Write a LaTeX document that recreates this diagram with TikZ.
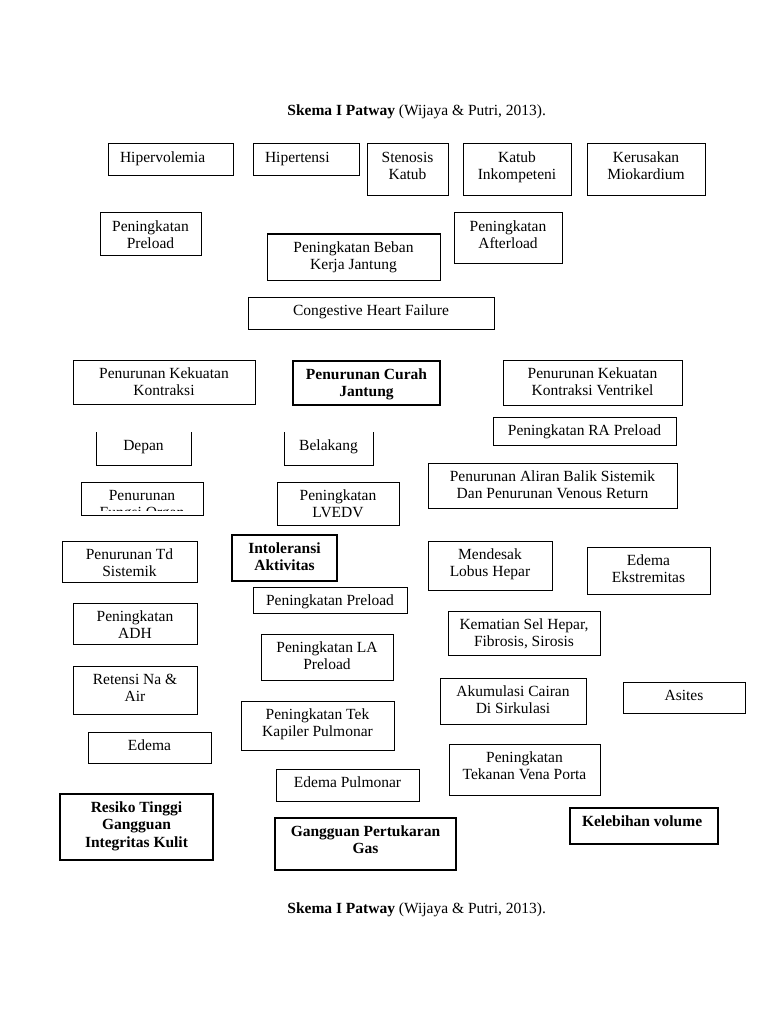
\documentclass[tikz,border=0pt]{standalone}
\usepackage{fontspec}
\setmainfont{Liberation Serif}
\begin{document}
\begin{tikzpicture}[x=1pt,y=-1pt,
  box/.style={draw=black, line width=1pt, inner sep=0pt, outer sep=0pt},
  boldbox/.style={draw=black, line width=2.6pt, inner sep=0pt, outer sep=0pt},
  openbox/.style={draw=none, inner sep=0pt, outer sep=0pt},
  txt/.style={inner sep=0pt, outer sep=0pt, align=center, font=\fontsize{15.5}{17.3}\selectfont},
  btxt/.style={txt, font=\fontsize{15.5}{17.3}\selectfont\bfseries},
  ltxt/.style={txt, align=left}]
\newcommand\bx[7]{%
  \node[#6, minimum width={#4-#2}, minimum height={#5-#3}] (#1) at ({(#2+#4)/2},{(#3+#5)/2}) {};
  \node[txt, anchor=north] (#1-t) at ([yshift=-5.5pt]#1.north) {\rule{0pt}{13pt}#7};}
\newcommand\bbx[7]{%
  \node[#6, minimum width={#4-#2}, minimum height={#5-#3}] (#1) at ({(#2+#4)/2},{(#3+#5)/2}) {};
  \node[btxt, anchor=north] (#1-t) at ([yshift=-5.5pt]#1.north) {\rule{0pt}{13pt}#7};}
\newcommand\lbx[8]{%
  \node[#6, minimum width={#4-#2}, minimum height={#5-#3}] (#1) at ({(#2+#4)/2},{(#3+#5)/2}) {};
  \node[#8, align=left, anchor=north west] (#1-t) at ([xshift=12pt,yshift=-5.5pt]#1.north west) {\rule{0pt}{13pt}#7};}

\useasboundingbox (0,0) rectangle (768,1024);
\fill[white] (0,0) rectangle (768,1024);

\node[txt, anchor=base] (title) at (416.7,115.7) {\textbf{Skema I Patway} (Wijaya \& Putri, 2013).};

\lbx{hiperv}{108}{144}{233}{176}{box}{Hipervolemia}{txt}
\lbx{hipert}{253}{144}{359}{176}{box}{Hipertensi}{txt}
\bx{steno}{367}{144}{448}{196}{box}{Stenosis\\Katub}
\bx{katub}{463}{144}{571}{196}{box}{Katub\\Inkompeteni}
\bx{kerus}{587}{144}{705}{196}{box}{Kerusakan\\Miokardium}

\bx{prel1}{100}{213}{201}{255}{box}{Peningkatan\\Preload}
\bx{beban}{267}{234}{440}{280}{box}{Peningkatan Beban\\Kerja Jantung}
\bx{after}{454}{213}{562}{263}{box}{Peningkatan\\Afterload}
\bx{chf}{248}{297}{494}{329}{box}{Congestive Heart Failure}

\bx{pkk}{73}{360}{255}{404}{box}{Penurunan Kekuatan\\Kontraksi}
\bbx{pcj}{293}{361}{440}{405}{boldbox}{Penurunan Curah\\Jantung}
\bx{pkkv}{503}{360}{682}{405}{box}{Penurunan Kekuatan\\Kontraksi Ventrikel}
\bx{ra}{493}{417}{676}{445}{box}{Peningkatan RA Preload}

\bx{depan}{96}{432}{191}{465}{openbox}{Depan}
\draw[line width=1pt] (depan.north west) -- (depan.south west) -- (depan.south east) -- (depan.north east);
\bx{belakang}{284}{432}{373}{465}{openbox}{Belakang}
\draw[line width=1pt] (belakang.north west) -- (belakang.south west) -- (belakang.south east) -- (belakang.north east);
\bx{aliran}{428}{463}{677}{508}{box}{Penurunan Aliran Balik Sistemik\\Dan Penurunan Venous Return}

\node[box, minimum width=122, minimum height=33] (fungsi) at (142,498.5) {};
\begin{scope}
  \clip (81,482) rectangle (203,510);
  \node[txt, anchor=north] (fungsi-t) at ([yshift=-5.5pt]fungsi.north) {\rule{0pt}{13pt}Penurunan\\Fungsi Organ};
\end{scope}
\bx{lvedv}{277}{482}{399}{525}{box}{Peningkatan\\LVEDV}

\bx{td}{62}{541}{197}{582}{box}{Penurunan Td\\Sistemik}
\bbx{intol}{232}{535}{337}{581}{boldbox}{Intoleransi\\Aktivitas}
\bx{mendesak}{428}{541}{552}{590}{box}{Mendesak\\Lobus Hepar}
\bx{edemaek}{587}{547}{710}{594}{box}{Edema\\Ekstremitas}
\bx{prel2}{253}{587}{407}{613}{box}{Peningkatan Preload}
\bx{adh}{73}{603}{197}{644}{box}{Peningkatan\\ADH}
\bx{kematian}{448}{611}{600}{655}{box}{Kematian Sel Hepar,\\Fibrosis, Sirosis}
\bx{la}{261}{634}{393}{680}{box}{Peningkatan LA\\Preload}
\bx{retensi}{73}{666}{197}{714}{box}{Retensi Na \&\\Air}
\bx{akumulasi}{440}{678}{586}{724}{box}{Akumulasi Cairan\\Di Sirkulasi}
\bx{asites}{623}{682}{745}{713}{box}{Asites}
\bx{kapiler}{241}{701}{394}{750}{box}{Peningkatan Tek\\Kapiler Pulmonar}
\bx{edema}{88}{732}{211}{763}{box}{Edema}
\bx{porta}{449}{744}{600}{795}{box}{Peningkatan\\Tekanan Vena Porta}
\bx{edpul}{276}{769}{419}{801}{box}{Edema Pulmonar}
\bbx{resiko}{60}{794}{213}{860}{boldbox}{Resiko Tinggi\\Gangguan\\Integritas Kulit}
\bbx{gpg}{275}{818}{456}{870}{boldbox}{Gangguan Pertukaran\\Gas}
\lbx{kelebihan}{570}{808}{718}{844}{boldbox}{Kelebihan volume}{btxt}

\node[txt, anchor=base] (title2) at (416.7,913) {\textbf{Skema I Patway} (Wijaya \& Putri, 2013).};
\end{tikzpicture}
\end{document}
